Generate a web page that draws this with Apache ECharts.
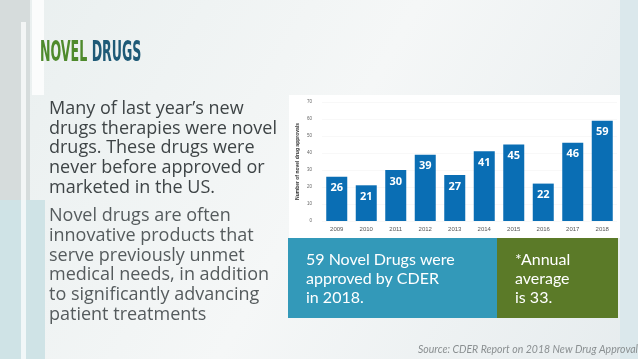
<!DOCTYPE html>
<html><head><meta charset="utf-8">
<script src="https://cdn.jsdelivr.net/npm/echarts@6/dist/echarts.min.js"></script>
<style>html,body{margin:0;padding:0;}#c{width:638px;height:359px;}</style>
</head><body><div id="c"></div>
<script>
const years = ['2009','2010','2011','2012','2013','2014','2015','2016','2017','2018'];
const approvals = [26,21,30,39,27,41,45,22,46,59];
const yTicks = [0,10,20,30,40,50,60,70];

const chart = echarts.init(document.getElementById('c'));
const bodyFont = '"Open Sans", Lato, sans-serif';
chart.setOption({
  animation:false,
  backgroundColor: new echarts.graphic.LinearGradient(0,0,1,1,[
    {offset:0,color:'#e9efef'},{offset:0.5,color:'#f5f7f7'},{offset:1,color:'#e6ecee'}]),
  graphic:[
    {type:'rect',shape:{x:0,y:0,width:30,height:359},style:{fill:'#d6dcdc'},z:-10},
    {type:'rect',shape:{x:0,y:200,width:45,height:159},style:{fill:'#cfe3e6'},z:-10},
    {type:'rect',shape:{x:32,y:0,width:12,height:95},style:{fill:'#ffffff',opacity:0.8},z:-9},
    {type:'rect',shape:{x:21,y:22,width:5,height:337},style:{fill:'#ffffff',opacity:0.7},z:-9},
    {type:'rect',shape:{x:620,y:0,width:18,height:359},style:{fill:'#dbe8ec'},z:-10},
    {type:'rect',shape:{x:289,y:95,width:331,height:143},style:{fill:'#ffffff'},z:-5},
    {type:'text',x:40,y:54,scaleX:0.5,style:{text:'{g|NOVEL} {b|DRUGS}',verticalAlign:'middle',
      rich:{g:{fill:'#4e8a2c',font:'bold 28px "DejaVu Sans Condensed", sans-serif'},
            b:{fill:'#1e5a77',font:'bold 28px "DejaVu Sans Condensed", sans-serif'}},
      font:'bold 28px "DejaVu Sans Condensed", sans-serif'}},
    {type:'text',left:49,top:99,style:{text:"Many of last year’s new\ndrugs therapies were novel\ndrugs. These drugs were\nnever before approved or\nmarketed in the US.",fill:'#3e4446',font:'18px '+bodyFont,lineHeight:19.7}},
    {type:'text',left:49,top:206,style:{text:"Novel drugs are often\ninnovative products that\nserve previously unmet\nmedical needs, in addition\nto significantly advancing\npatient treatments",fill:'#555b5d',font:'18px '+bodyFont,lineHeight:19.8}},
    {type:'rect',shape:{x:288,y:238,width:209,height:80},style:{fill:'#3399b9'}},
    {type:'rect',shape:{x:497,y:238,width:121,height:80},style:{fill:'#5b7a28'}},
    {type:'text',left:306,top:250,style:{text:'59 Novel Drugs were\napproved by CDER\nin 2018.',fill:'#ffffff',font:'16px Lato, sans-serif',lineHeight:19}},
    {type:'text',left:515,top:250,style:{text:'*Annual\naverage\nis 33.',fill:'#ffffff',font:'16px Lato, sans-serif',lineHeight:19}},
    {type:'text',left:418,top:344,style:{text:'Source: CDER Report on 2018 New Drug Approvals',fill:'#8a8f91',font:'italic 10.5px Lato, sans-serif'}}
  ],
  grid:{left:322,right:21,top:102,bottom:138,containLabel:false},
  xAxis:{type:'category',data:years,axisLine:{show:false},axisTick:{show:false},
    axisLabel:{color:'#555',fontSize:6,margin:5}},
  yAxis:{type:'value',min:0,max:70,interval:10,
    name:'Number of novel drug approvals',nameLocation:'middle',nameGap:22,nameRotate:90,
    nameTextStyle:{fontSize:5,fontWeight:'bold',color:'#333'},
    axisLabel:{color:'#666',fontSize:4.5,margin:10,formatter:v=>yTicks.includes(v)?String(v):''},
    splitLine:{lineStyle:{color:'#f0f0f0',width:0.5}}},
  series:[{type:'bar',data:approvals,barWidth:21,itemStyle:{color:'#0a6eb4'},
    label:{show:true,position:'insideTop',distance:6,color:'#ffffff',fontWeight:'bold',fontSize:11,fontFamily:'"Open Sans", sans-serif'}}]
});
</script></body></html>
